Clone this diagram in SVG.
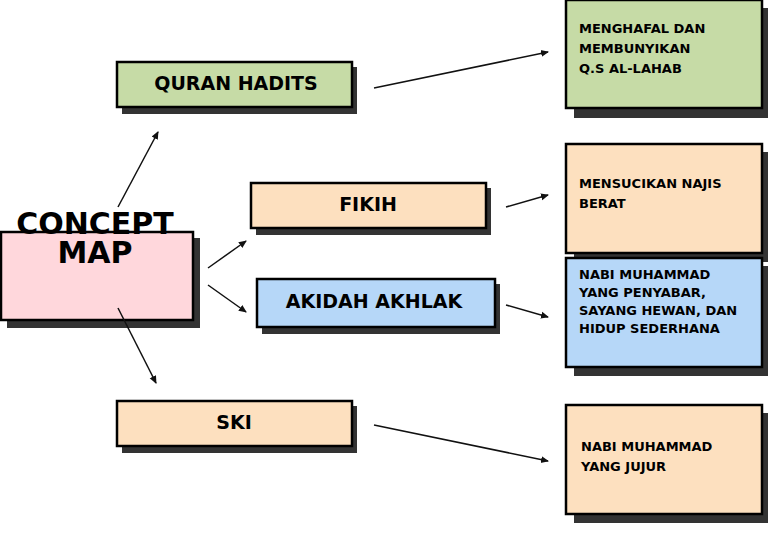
<svg xmlns="http://www.w3.org/2000/svg" width="768" height="555" viewBox="0 0 768 555">
<style>
.sh{fill:#333}
.b{stroke:#000;stroke-width:2.5}
.g{fill:#c6dba6}.p{fill:#fde0bf}.u{fill:#b6d7f8}.k{fill:#ffd7dc}
text{font-family:"DejaVu Sans",sans-serif;font-weight:bold;fill:#000}
.t{font-size:19px;text-anchor:middle}
.s{font-size:13px}
.c{stroke:#111;stroke-width:1.5;fill:none;marker-end:url(#a)}
</style>
<defs><marker id="a" markerWidth="8" markerHeight="8" refX="7" refY="4" orient="auto" markerUnits="userSpaceOnUse"><path d="M0,0.5 L8,4 L0,7.5z" fill="#111"/></marker></defs>
<rect width="768" height="555" fill="#fff"/>
<g id="concept"><rect class="sh" x="7" y="238" width="193" height="90"/><rect class="b k" x="1" y="232" width="192" height="88"/>
<text x="95" y="234" style="font-size:30px;text-anchor:middle">CONCEPT</text><text x="95" y="263" style="font-size:30px;text-anchor:middle">MAP</text></g>
<g id="quran"><rect class="sh" x="122" y="67" width="235" height="47"/><rect class="b g" x="117" y="62" width="235" height="45"/><text class="t" x="236" y="90">QURAN HADITS</text></g>
<g id="fikih"><rect class="sh" x="256" y="188" width="235" height="47"/><rect class="b p" x="251" y="183" width="235" height="45"/><text class="t" x="368" y="211">FIKIH</text></g>
<g id="akidah"><rect class="sh" x="262" y="284" width="238" height="50"/><rect class="b u" x="257" y="279" width="238" height="48"/><text class="t" x="374" y="308">AKIDAH AKHLAK</text></g>
<g id="ski"><rect class="sh" x="122" y="406" width="235" height="47"/><rect class="b p" x="117" y="401" width="235" height="45"/><text class="t" x="234" y="429">SKI</text></g>
<g id="r1"><rect class="sh" x="574" y="8" width="196" height="110"/><rect class="b g" x="566" y="0" width="196" height="108"/>
<text class="s" x="579" y="33">MENGHAFAL DAN</text><text class="s" x="579" y="53">MEMBUNYIKAN</text><text class="s" x="579" y="73">Q.S AL-LAHAB</text></g>
<g id="r2"><rect class="sh" x="574" y="152" width="196" height="110"/><rect class="b p" x="566" y="144" width="196" height="109"/>
<text class="s" x="579" y="188">MENSUCIKAN NAJIS</text><text class="s" x="579" y="208">BERAT</text></g>
<g id="r3"><rect class="sh" x="574" y="266" width="196" height="110"/><rect class="b u" x="566" y="258" width="196" height="109"/>
<text class="s" x="579" y="279">NABI MUHAMMAD</text><text class="s" x="579" y="297">YANG PENYABAR,</text><text class="s" x="579" y="315">SAYANG HEWAN, DAN</text><text class="s" x="579" y="333">HIDUP SEDERHANA</text></g>
<g id="r4"><rect class="sh" x="574" y="413" width="196" height="110"/><rect class="b p" x="566" y="405" width="196" height="109"/>
<text class="s" x="581" y="451">NABI MUHAMMAD</text><text class="s" x="581" y="471">YANG JUJUR</text></g>
<g id="connectors">
<line class="c" x1="118" y1="207" x2="158" y2="132"/>
<line class="c" x1="374" y1="88" x2="548" y2="52"/>
<line class="c" x1="208" y1="268" x2="246" y2="241"/>
<line class="c" x1="208" y1="285" x2="246" y2="312"/>
<line class="c" x1="118" y1="308" x2="156" y2="383"/>
<line class="c" x1="506" y1="207" x2="548" y2="195"/>
<line class="c" x1="506" y1="305" x2="548" y2="317"/>
<line class="c" x1="374" y1="425" x2="548" y2="461"/>
</g>
</svg>
